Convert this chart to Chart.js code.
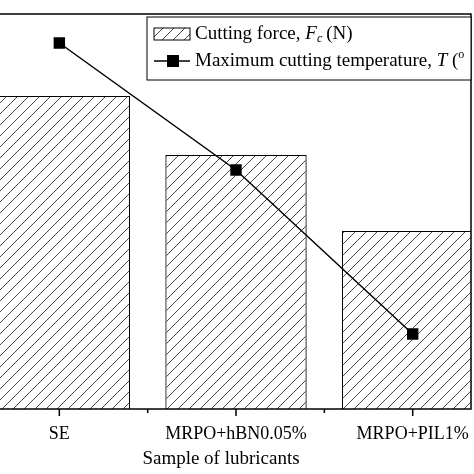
<!DOCTYPE html>
<html><head><meta charset="utf-8">
<script src="https://cdn.jsdelivr.net/npm/chart.js@4"></script>
<style>
html,body{margin:0;padding:0;background:#fff;overflow:hidden;width:474px;height:474px}
#wrap{position:absolute;left:-40px;top:0;width:560px;height:474px}
</style></head>
<body>
<div id="wrap"><canvas id="c"></canvas></div>
<script>
const samples = ["SE", "MRPO+hBN0.05%", "MRPO+PIL1%"]
const positions = [1, 2, 3]
const cuttingForce = [313, 254, 178]     // (axis cut off)
const maxTemperature = [366, 239, 75]
const minorTicks = [1.5, 2.5]

const serif = "'Liberation Serif', 'DejaVu Serif', serif"

function hatch() {
    const p = document.createElement("canvas")
    p.width = 11; p.height = 11
    const g = p.getContext("2d")
    g.strokeStyle = "#333"; g.lineWidth = 0.9
    g.beginPath()
    g.moveTo(0, 11); g.lineTo(11, 0)
    g.moveTo(-5.5, 5.5); g.lineTo(5.5, -5.5)
    g.moveTo(5.5, 16.5); g.lineTo(16.5, 5.5)
    g.stroke()
    return g.createPattern(p, "repeat")
}

const frame = {
    id: "frame",
    afterDraw(chart) {
        const { ctx, chartArea: a, scales: { x } } = chart
        ctx.save()
        ctx.strokeStyle = "#000"; ctx.lineWidth = 1.5
        ctx.strokeRect(a.left, a.top, a.right - a.left, a.bottom - a.top)
        ctx.beginPath()
        positions.forEach(v => { const px = x.getPixelForValue(v); ctx.moveTo(px, a.bottom); ctx.lineTo(px, a.bottom + 7) })
        minorTicks.forEach(v => { const px = x.getPixelForValue(v); ctx.moveTo(px, a.bottom); ctx.lineTo(px, a.bottom + 4) })
        ctx.stroke()
        // legend
        const lx = 187, ly = 17, lw = a.right - lx, lh = 63
        ctx.fillStyle = "#fff"; ctx.fillRect(lx, ly, lw, lh)
        ctx.lineWidth = 1; ctx.strokeRect(lx, ly, lw, lh)
        ctx.fillStyle = hatch(); ctx.fillRect(lx + 7, ly + 11, 36, 12)
        ctx.strokeStyle = "#000"; ctx.strokeRect(lx + 7, ly + 11, 36, 12)
        ctx.beginPath(); ctx.moveTo(lx + 7, ly + 44); ctx.lineTo(lx + 43, ly + 44); ctx.lineWidth = 1.5; ctx.stroke()
        ctx.fillStyle = "#000"; ctx.fillRect(lx + 20, ly + 38, 12, 12)
        ctx.textBaseline = "middle"
        let tx = lx + 48
        const seg = (t, it, dy = 0, size = 19) => {
            ctx.font = (it ? "italic " : "") + size + "px " + serif
            ctx.fillText(t, tx, ly + 17 + dy); tx += ctx.measureText(t).width
        }
        seg("Cutting force, ", false); seg("F", true); seg("c", true, 5, 12); tx += 4; seg("(N)", false)
        tx = lx + 48
        ctx.font = "19px " + serif
        ctx.fillText("Maximum cutting temperature, ", tx, ly + 44)
        tx += ctx.measureText("Maximum cutting temperature, ").width
        ctx.font = "italic 19px " + serif; ctx.fillText("T", tx, ly + 44)
        tx += ctx.measureText("T ").width
        ctx.font = "19px " + serif; ctx.fillText("(", tx, ly + 44)
        tx += ctx.measureText("(").width
        ctx.font = "12px " + serif; ctx.fillText("o", tx, ly + 38)
        ctx.restore()
    }
}

new Chart(document.getElementById("c"), {
    type: "bar",
    data: {
        datasets: [{
            type: "line",
            label: "Maximum cutting temperature",
            data: positions.map((p, i) => ({ x: p, y: maxTemperature[i] })),
            borderColor: "#000", backgroundColor: "#000",
            borderWidth: 1.5, pointStyle: "rect", pointRadius: 7,
            order: 0
        }, {
            label: "Cutting force",
            data: positions.map((p, i) => ({ x: p, y: cuttingForce[i] })),
            backgroundColor: hatch(), borderColor: "#000", borderWidth: 1,
            barPercentage: 0.8, categoryPercentage: 1,
            order: 1
        }]
    },
    options: {
        responsive: true, maintainAspectRatio: false, animation: false,
        layout: { padding: { left: 11, right: 49, top: 14, bottom: 0 } },
        plugins: { legend: { display: false }, tooltip: { enabled: false } },
        scales: {
            x: {
                type: "linear", min: 0.5, max: 3.33, offset: false,
                grid: { display: false }, border: { display: false },
                afterBuildTicks: s => { s.ticks = positions.map(v => ({ value: v })) },
                afterFit: s => { s.height = 65 },
                ticks: {
                    padding: 6, color: "#000", maxRotation: 0, autoSkip: false,
                    font: { family: serif, size: 18 },
                    callback: v => samples[positions.indexOf(v)] ?? ""
                },
                title: { display: true, text: "Sample of lubricants", color: "#000", font: { family: serif, size: 19 }, padding: { top: 9 } }
            },
            y: { display: false, min: 0, max: 395 }
        }
    },
    plugins: [frame]
})
</script>
</body></html>
